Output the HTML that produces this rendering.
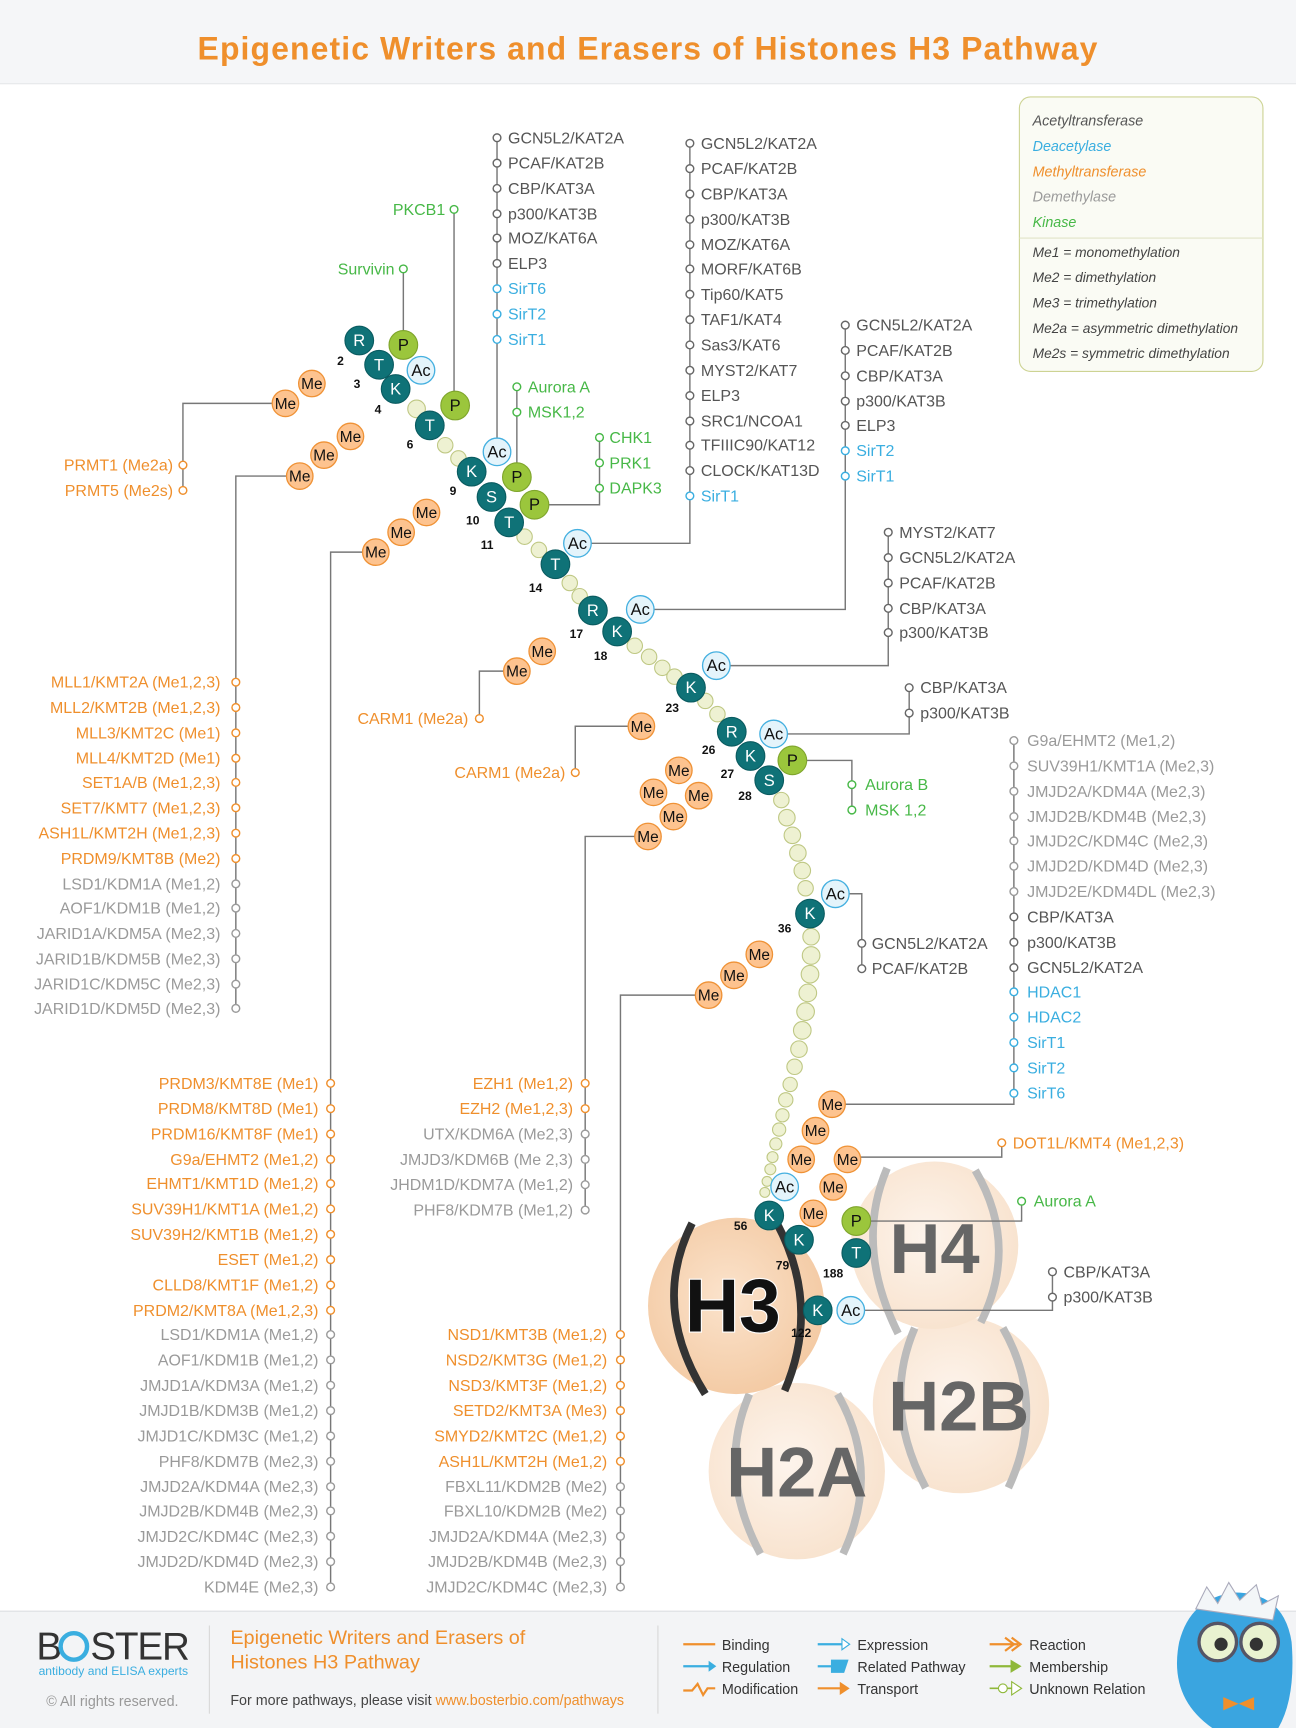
<!DOCTYPE html>
<html><head><meta charset="utf-8"><style>
html,body{margin:0;padding:0;background:#fff}
svg{display:block}
text{font-family:"Liberation Sans",sans-serif}
.g{fill:#555;font-size:14.5px}.b{fill:#3aaee0;font-size:14.5px}.o{fill:#ef8f2c;font-size:14.5px}.l{fill:#9a9a9a;font-size:14.5px}.k{fill:#47b847;font-size:14.5px}
.r{text-anchor:end}
.ln{stroke:#777;stroke-width:1.3;fill:none}
.cg{fill:#fff;stroke:#666;stroke-width:1.3}.cb{fill:#fff;stroke:#3aaee0;stroke-width:1.3}.co{fill:#fff;stroke:#ef8f2c;stroke-width:1.3}.cl{fill:#fff;stroke:#9a9a9a;stroke-width:1.3}.ck{fill:#fff;stroke:#47b847;stroke-width:1.3}
.t{fill:#0f7277;stroke:#0a5b60;stroke-width:1}.tt{fill:#fff;font-size:15px;text-anchor:middle}
.p{fill:#9bc63c;stroke:#7fa52c;stroke-width:1}.pt{fill:#111;font-size:15px;text-anchor:middle}
.a{fill:#e4f4fb;stroke:#45b0e0;stroke-width:1.2}
.m{fill:#fdc38f;stroke:#ef9236;stroke-width:1.2}
.bd{fill:#eef1d2;stroke:#bfc884;stroke-width:1}
.n{font-size:11px;font-weight:bold;fill:#111;text-anchor:middle}
.lg{font-size:13px;font-style:italic}
</style></head><body>
<svg width="1296" height="1728" viewBox="0 0 1176 1568" xmlns="http://www.w3.org/2000/svg">
<defs>
<radialGradient id="peach" cx="0.45" cy="0.45" r="0.6"><stop offset="0" stop-color="#fbe3cc"/><stop offset="1" stop-color="#f3c9a2"/></radialGradient>
<radialGradient id="peach2" cx="0.45" cy="0.45" r="0.6"><stop offset="0" stop-color="#fdf4ec"/><stop offset="1" stop-color="#f8e2cd"/></radialGradient>
</defs>
<rect x="0" y="0" width="1176" height="76" fill="#f5f6f8"/>
<line x1="0" y1="76" x2="1176" y2="76" stroke="#e3e5e8"/>
<text x="588" y="54" text-anchor="middle" style="font-size:29px;font-weight:bold;fill:#ef8f2c;letter-spacing:1px">Epigenetic Writers and Erasers of Histones H3 Pathway</text>

<!-- legend box -->
<rect x="925" y="88" width="221" height="249" rx="10" fill="#fafbf4" stroke="#cdd393"/>
<text x="937" y="114" class="lg" fill="#555">Acetyltransferase</text>
<text x="937" y="137" class="lg" fill="#3aaee0">Deacetylase</text>
<text x="937" y="160" class="lg" fill="#ef8f2c">Methyltransferase</text>
<text x="937" y="183" class="lg" fill="#9a9a9a">Demethylase</text>
<text x="937" y="206" class="lg" fill="#47b847">Kinase</text>
<line x1="925" y1="216" x2="1146" y2="216" stroke="#e1e4c8"/>
<text x="937" y="233" class="lg" fill="#444" style="font-size:12.5px">Me1 = monomethylation</text>
<text x="937" y="256" class="lg" fill="#444" style="font-size:12.5px">Me2 = dimethylation</text>
<text x="937" y="279" class="lg" fill="#444" style="font-size:12.5px">Me3 = trimethylation</text>
<text x="937" y="302" class="lg" fill="#444" style="font-size:12.5px">Me2a = asymmetric dimethylation</text>
<text x="937" y="325" class="lg" fill="#444" style="font-size:12.5px">Me2s = symmetric dimethylation</text>

<!-- nucleosome -->
<g>
<circle cx="723" cy="1335" r="80" fill="url(#peach2)"/>
<path d="M680 1265 Q650 1335 690 1410" stroke="#bbb" stroke-width="7" fill="none"/>
<path d="M760 1265 Q800 1335 765 1410" stroke="#bbb" stroke-width="7" fill="none"/>
<text x="723" y="1358" text-anchor="middle" style="font-size:64px;font-weight:bold;fill:#666">H2A</text>
<circle cx="872" cy="1275" r="80" fill="url(#peach2)"/>
<path d="M830 1205 Q800 1275 840 1350" stroke="#bbb" stroke-width="7" fill="none"/>
<path d="M910 1205 Q950 1275 915 1350" stroke="#bbb" stroke-width="7" fill="none"/>
<text x="870" y="1298" text-anchor="middle" style="font-size:64px;font-weight:bold;fill:#666">H2B</text>
<circle cx="848" cy="1130" r="76" fill="url(#peach2)"/>
<path d="M805 1060 Q775 1130 815 1210" stroke="#bbb" stroke-width="7" fill="none"/>
<path d="M885 1062 Q925 1130 890 1200" stroke="#bbb" stroke-width="7" fill="none"/>
<text x="848" y="1155" text-anchor="middle" style="font-size:64px;font-weight:bold;fill:#666">H4</text>
<circle cx="668" cy="1185" r="80" fill="url(#peach)"/>
<path d="M628 1110 Q590 1185 640 1265" stroke="#333" stroke-width="7" fill="none"/>
<path d="M705 1110 Q745 1185 712 1262" stroke="#333" stroke-width="7" fill="none"/>
<text x="665" y="1208" text-anchor="middle" style="font-size:68px;font-weight:bold;fill:#111;stroke:#fff;stroke-width:2;paint-order:stroke">H3</text>
</g>

<!-- connector lines -->
<g class="ln">
<path d="M259 366 H166 V445"/>
<path d="M272 432 H214 V915"/>
<path d="M341 501 H300 V1440"/>
<path d="M469 609 H435 V652"/>
<path d="M582 659 H522 V701"/>
<path d="M588 759 H531 V1098"/>
<path d="M643 903 H563 V1440"/>
<path d="M451 125 V398"/>
<path d="M412 190 V356"/>
<path d="M366 244 V301"/>
<path d="M469 351 V421"/>
<path d="M485 458 H544 V397"/>
<path d="M536 493 H626 V130"/>
<path d="M593 553 H767 V295"/>
<path d="M662 604 H806 V483"/>
<path d="M714 666 H825 V624"/>
<path d="M731 690 H773 V735"/>
<path d="M770 811 H782 V879"/>
<path d="M767 1002 H920 V672"/>
<path d="M781 1050 H909 V1037"/>
<path d="M789 1108 H927 V1090"/>
<path d="M784 1189 H955 V1154"/>
</g>

<!-- beads -->
<g class="bd">
<circle cx="378" cy="371" r="8"/><circle cx="404" cy="404" r="7"/><circle cx="416" cy="416" r="7"/>
<circle cx="476" cy="487" r="7"/><circle cx="489" cy="499" r="7"/>
<circle cx="517" cy="529" r="7"/><circle cx="526" cy="541" r="7"/>
<circle cx="576" cy="586" r="7"/><circle cx="589" cy="596" r="7"/><circle cx="601" cy="606" r="7"/><circle cx="612" cy="614" r="7"/>
<circle cx="640" cy="636" r="7"/><circle cx="651" cy="648" r="7"/>
<circle cx="709" cy="726" r="7"/><circle cx="714" cy="742" r="7.5"/><circle cx="719" cy="758" r="7.5"/><circle cx="724" cy="774" r="7.5"/><circle cx="728" cy="790" r="7.5"/><circle cx="731" cy="806" r="7"/>
<circle cx="736" cy="850" r="7.5"/><circle cx="736" cy="867" r="8"/><circle cx="735" cy="884" r="8"/><circle cx="733" cy="901" r="8"/><circle cx="731" cy="918" r="8"/><circle cx="728" cy="935" r="8"/><circle cx="725" cy="952" r="7.5"/><circle cx="721" cy="968" r="7"/><circle cx="717" cy="984" r="6.5"/><circle cx="713" cy="998" r="6.5"/><circle cx="710" cy="1012" r="6"/><circle cx="707" cy="1025" r="6"/><circle cx="704" cy="1038" r="5.5"/><circle cx="701" cy="1050" r="5"/><circle cx="699" cy="1061" r="5"/><circle cx="696" cy="1072" r="4.5"/><circle cx="694" cy="1082" r="4.5"/>
</g>

<!-- Me -->
<g class="m">
<circle cx="283" cy="348" r="12"/><circle cx="259" cy="366" r="12"/>
<circle cx="318" cy="396" r="12"/><circle cx="294" cy="413" r="12"/><circle cx="272" cy="432" r="12"/>
<circle cx="387" cy="465" r="12"/><circle cx="364" cy="483" r="12"/><circle cx="341" cy="501" r="12"/>
<circle cx="492" cy="591" r="12"/><circle cx="469" cy="609" r="12"/>
<circle cx="582" cy="659" r="12"/>
<circle cx="616" cy="699" r="12"/><circle cx="593" cy="719" r="12"/><circle cx="634" cy="722" r="12"/><circle cx="611" cy="741" r="12"/><circle cx="588" cy="759" r="12"/>
<circle cx="689" cy="866" r="12"/><circle cx="666" cy="885" r="12"/><circle cx="643" cy="903" r="12"/>
<circle cx="755" cy="1002" r="12"/><circle cx="740" cy="1026" r="12"/><circle cx="727" cy="1052" r="12"/><circle cx="769" cy="1052" r="12"/><circle cx="756" cy="1077" r="12"/><circle cx="738" cy="1101" r="12"/>
</g>
<g class="pt" style="font-size:14px">
<text x="283" y="353">Me</text><text x="259" y="371">Me</text>
<text x="318" y="401">Me</text><text x="294" y="418">Me</text><text x="272" y="437">Me</text>
<text x="387" y="470">Me</text><text x="364" y="488">Me</text><text x="341" y="506">Me</text>
<text x="492" y="596">Me</text><text x="469" y="614">Me</text>
<text x="582" y="664">Me</text>
<text x="616" y="704">Me</text><text x="593" y="724">Me</text><text x="634" y="727">Me</text><text x="611" y="746">Me</text><text x="588" y="764">Me</text>
<text x="689" y="871">Me</text><text x="666" y="890">Me</text><text x="643" y="908">Me</text>
<text x="755" y="1007">Me</text><text x="740" y="1031">Me</text><text x="727" y="1057">Me</text><text x="769" y="1057">Me</text><text x="756" y="1082">Me</text><text x="738" y="1106">Me</text>
</g>

<!-- Ac -->
<g class="a">
<circle cx="382" cy="336" r="12.5"/><circle cx="451" cy="410" r="12.5"/><circle cx="524" cy="493" r="12.5"/><circle cx="581" cy="553" r="12.5"/><circle cx="650" cy="604" r="12.5"/><circle cx="702" cy="666" r="12.5"/><circle cx="758" cy="811" r="12.5"/><circle cx="712" cy="1077" r="12.5"/><circle cx="772" cy="1189" r="12.5"/>
</g>
<g class="pt">
<text x="382" y="341">Ac</text><text x="451" y="415">Ac</text><text x="524" y="498">Ac</text><text x="581" y="558">Ac</text><text x="650" y="609">Ac</text><text x="702" y="671">Ac</text><text x="758" y="816">Ac</text><text x="712" y="1082">Ac</text><text x="772" y="1194">Ac</text>
</g>

<!-- P -->
<g class="p">
<circle cx="366" cy="313" r="13"/><circle cx="413" cy="368" r="13"/><circle cx="469" cy="433" r="13"/><circle cx="485" cy="458" r="13"/><circle cx="719" cy="690" r="13"/><circle cx="777" cy="1108" r="13"/>
</g>
<g class="pt">
<text x="366" y="318">P</text><text x="413" y="373">P</text><text x="469" y="438">P</text><text x="485" y="463">P</text><text x="719" y="695">P</text><text x="777" y="1113">P</text>
</g>

<!-- residues -->
<g class="t">
<circle cx="326" cy="309" r="13"/><circle cx="344" cy="331" r="13"/><circle cx="359" cy="353" r="13"/><circle cx="390" cy="386" r="13"/>
<circle cx="428" cy="428" r="13"/><circle cx="446" cy="451" r="13"/><circle cx="462" cy="474" r="13"/><circle cx="504" cy="512" r="13"/>
<circle cx="538" cy="554" r="13"/><circle cx="560" cy="573" r="13"/><circle cx="627" cy="624" r="13"/>
<circle cx="664" cy="664" r="13"/><circle cx="681" cy="686" r="13"/><circle cx="698" cy="708" r="13"/>
<circle cx="735" cy="829" r="13"/><circle cx="698" cy="1103" r="13"/><circle cx="725" cy="1125" r="13"/><circle cx="777" cy="1137" r="13"/><circle cx="742" cy="1189" r="13"/>
</g>
<g class="tt">
<text x="326" y="314">R</text><text x="344" y="336">T</text><text x="359" y="358">K</text><text x="390" y="391">T</text>
<text x="428" y="433">K</text><text x="446" y="456">S</text><text x="462" y="479">T</text><text x="504" y="517">T</text>
<text x="538" y="559">R</text><text x="560" y="578">K</text><text x="627" y="629">K</text>
<text x="664" y="669">R</text><text x="681" y="691">K</text><text x="698" y="713">S</text>
<text x="735" y="834">K</text><text x="698" y="1108">K</text><text x="725" y="1130">K</text><text x="777" y="1142">T</text><text x="742" y="1194">K</text>
</g>
<g class="n">
<text x="309" y="331">2</text><text x="324" y="352">3</text><text x="343" y="375">4</text><text x="372" y="407">6</text>
<text x="411" y="449">9</text><text x="429" y="476">10</text><text x="442" y="498">11</text><text x="486" y="537">14</text>
<text x="523" y="579">17</text><text x="545" y="599">18</text><text x="610" y="646">23</text><text x="643" y="684">26</text>
<text x="660" y="706">27</text><text x="676" y="726">28</text><text x="712" y="846">36</text><text x="672" y="1116">56</text>
<text x="710" y="1152">79</text><text x="756" y="1159">188</text><text x="727" y="1213">122</text>
</g>

<!-- top lists -->
<g>
<circle cx="451" cy="125" r="3.5" class="cg"/><text x="461" y="130" class="g">GCN5L2/KAT2A</text>
<circle cx="451" cy="148" r="3.5" class="cg"/><text x="461" y="153" class="g">PCAF/KAT2B</text>
<circle cx="451" cy="171" r="3.5" class="cg"/><text x="461" y="176" class="g">CBP/KAT3A</text>
<circle cx="451" cy="194" r="3.5" class="cg"/><text x="461" y="199" class="g">p300/KAT3B</text>
<circle cx="451" cy="216" r="3.5" class="cg"/><text x="461" y="221" class="g">MOZ/KAT6A</text>
<circle cx="451" cy="239" r="3.5" class="cg"/><text x="461" y="244" class="g">ELP3</text>
<circle cx="451" cy="262" r="3.5" class="cb"/><text x="461" y="267" class="b">SirT6</text>
<circle cx="451" cy="285" r="3.5" class="cb"/><text x="461" y="290" class="b">SirT2</text>
<circle cx="451" cy="308" r="3.5" class="cb"/><text x="461" y="313" class="b">SirT1</text>

<circle cx="412" cy="190" r="3.5" class="ck"/><text x="404" y="195" class="k r">PKCB1</text>
<circle cx="366" cy="244" r="3.5" class="ck"/><text x="358" y="249" class="k r">Survivin</text>
<circle cx="469" cy="351" r="3.5" class="ck"/><text x="479" y="356" class="k">Aurora A</text>
<circle cx="469" cy="374" r="3.5" class="ck"/><text x="479" y="379" class="k">MSK1,2</text>
<circle cx="544" cy="397" r="3.5" class="ck"/><text x="553" y="402" class="k">CHK1</text>
<circle cx="544" cy="420" r="3.5" class="ck"/><text x="553" y="425" class="k">PRK1</text>
<circle cx="544" cy="443" r="3.5" class="ck"/><text x="553" y="448" class="k">DAPK3</text>

<circle cx="626" cy="130" r="3.5" class="cg"/><text x="636" y="135" class="g">GCN5L2/KAT2A</text>
<circle cx="626" cy="153" r="3.5" class="cg"/><text x="636" y="158" class="g">PCAF/KAT2B</text>
<circle cx="626" cy="176" r="3.5" class="cg"/><text x="636" y="181" class="g">CBP/KAT3A</text>
<circle cx="626" cy="199" r="3.5" class="cg"/><text x="636" y="204" class="g">p300/KAT3B</text>
<circle cx="626" cy="222" r="3.5" class="cg"/><text x="636" y="227" class="g">MOZ/KAT6A</text>
<circle cx="626" cy="244" r="3.5" class="cg"/><text x="636" y="249" class="g">MORF/KAT6B</text>
<circle cx="626" cy="267" r="3.5" class="cg"/><text x="636" y="272" class="g">Tip60/KAT5</text>
<circle cx="626" cy="290" r="3.5" class="cg"/><text x="636" y="295" class="g">TAF1/KAT4</text>
<circle cx="626" cy="313" r="3.5" class="cg"/><text x="636" y="318" class="g">Sas3/KAT6</text>
<circle cx="626" cy="336" r="3.5" class="cg"/><text x="636" y="341" class="g">MYST2/KAT7</text>
<circle cx="626" cy="359" r="3.5" class="cg"/><text x="636" y="364" class="g">ELP3</text>
<circle cx="626" cy="382" r="3.5" class="cg"/><text x="636" y="387" class="g">SRC1/NCOA1</text>
<circle cx="626" cy="404" r="3.5" class="cg"/><text x="636" y="409" class="g">TFIIIC90/KAT12</text>
<circle cx="626" cy="427" r="3.5" class="cg"/><text x="636" y="432" class="g">CLOCK/KAT13D</text>
<circle cx="626" cy="450" r="3.5" class="cb"/><text x="636" y="455" class="b">SirT1</text>

<circle cx="767" cy="295" r="3.5" class="cg"/><text x="777" y="300" class="g">GCN5L2/KAT2A</text>
<circle cx="767" cy="318" r="3.5" class="cg"/><text x="777" y="323" class="g">PCAF/KAT2B</text>
<circle cx="767" cy="341" r="3.5" class="cg"/><text x="777" y="346" class="g">CBP/KAT3A</text>
<circle cx="767" cy="364" r="3.5" class="cg"/><text x="777" y="369" class="g">p300/KAT3B</text>
<circle cx="767" cy="386" r="3.5" class="cg"/><text x="777" y="391" class="g">ELP3</text>
<circle cx="767" cy="409" r="3.5" class="cb"/><text x="777" y="414" class="b">SirT2</text>
<circle cx="767" cy="432" r="3.5" class="cb"/><text x="777" y="437" class="b">SirT1</text>

<circle cx="806" cy="483" r="3.5" class="cg"/><text x="816" y="488" class="g">MYST2/KAT7</text>
<circle cx="806" cy="506" r="3.5" class="cg"/><text x="816" y="511" class="g">GCN5L2/KAT2A</text>
<circle cx="806" cy="529" r="3.5" class="cg"/><text x="816" y="534" class="g">PCAF/KAT2B</text>
<circle cx="806" cy="552" r="3.5" class="cg"/><text x="816" y="557" class="g">CBP/KAT3A</text>
<circle cx="806" cy="574" r="3.5" class="cg"/><text x="816" y="579" class="g">p300/KAT3B</text>

<circle cx="825" cy="624" r="3.5" class="cg"/><text x="835" y="629" class="g">CBP/KAT3A</text>
<circle cx="825" cy="647" r="3.5" class="cg"/><text x="835" y="652" class="g">p300/KAT3B</text>

<circle cx="773" cy="712" r="3.5" class="ck"/><text x="785" y="717" class="k">Aurora B</text>
<circle cx="773" cy="735" r="3.5" class="ck"/><text x="785" y="740" class="k">MSK 1,2</text>

<circle cx="782" cy="856" r="3.5" class="cg"/><text x="791" y="861" class="g">GCN5L2/KAT2A</text>
<circle cx="782" cy="879" r="3.5" class="cg"/><text x="791" y="884" class="g">PCAF/KAT2B</text>

<circle cx="920" cy="672" r="3.5" class="cl"/><text x="932" y="677" class="l">G9a/EHMT2 (Me1,2)</text>
<circle cx="920" cy="695" r="3.5" class="cl"/><text x="932" y="700" class="l">SUV39H1/KMT1A (Me2,3)</text>
<circle cx="920" cy="718" r="3.5" class="cl"/><text x="932" y="723" class="l">JMJD2A/KDM4A (Me2,3)</text>
<circle cx="920" cy="741" r="3.5" class="cl"/><text x="932" y="746" class="l">JMJD2B/KDM4B (Me2,3)</text>
<circle cx="920" cy="763" r="3.5" class="cl"/><text x="932" y="768" class="l">JMJD2C/KDM4C (Me2,3)</text>
<circle cx="920" cy="786" r="3.5" class="cl"/><text x="932" y="791" class="l">JMJD2D/KDM4D (Me2,3)</text>
<circle cx="920" cy="809" r="3.5" class="cl"/><text x="932" y="814" class="l">JMJD2E/KDM4DL (Me2,3)</text>
<circle cx="920" cy="832" r="3.5" class="cg"/><text x="932" y="837" class="g">CBP/KAT3A</text>
<circle cx="920" cy="855" r="3.5" class="cg"/><text x="932" y="860" class="g">p300/KAT3B</text>
<circle cx="920" cy="878" r="3.5" class="cg"/><text x="932" y="883" class="g">GCN5L2/KAT2A</text>
<circle cx="920" cy="900" r="3.5" class="cb"/><text x="932" y="905" class="b">HDAC1</text>
<circle cx="920" cy="923" r="3.5" class="cb"/><text x="932" y="928" class="b">HDAC2</text>
<circle cx="920" cy="946" r="3.5" class="cb"/><text x="932" y="951" class="b">SirT1</text>
<circle cx="920" cy="969" r="3.5" class="cb"/><text x="932" y="974" class="b">SirT2</text>
<circle cx="920" cy="992" r="3.5" class="cb"/><text x="932" y="997" class="b">SirT6</text>

<circle cx="909" cy="1037" r="3.5" class="co"/><text x="919" y="1042" class="o">DOT1L/KMT4 (Me1,2,3)</text>
<circle cx="927" cy="1090" r="3.5" class="ck"/><text x="938" y="1095" class="k">Aurora A</text>
<circle cx="955" cy="1154" r="3.5" class="cg"/><text x="965" y="1159" class="g">CBP/KAT3A</text>
<circle cx="955" cy="1177" r="3.5" class="cg"/><text x="965" y="1182" class="g">p300/KAT3B</text>
</g>

<!-- left lists -->
<g>
<circle cx="166" cy="422" r="3.5" class="co"/><text x="157" y="427" class="o r">PRMT1 (Me2a)</text>
<circle cx="166" cy="445" r="3.5" class="co"/><text x="157" y="450" class="o r">PRMT5 (Me2s)</text>

<circle cx="214" cy="619" r="3.5" class="co"/><text x="200" y="624" class="o r">MLL1/KMT2A (Me1,2,3)</text>
<circle cx="214" cy="642" r="3.5" class="co"/><text x="200" y="647" class="o r">MLL2/KMT2B (Me1,2,3)</text>
<circle cx="214" cy="665" r="3.5" class="co"/><text x="200" y="670" class="o r">MLL3/KMT2C (Me1)</text>
<circle cx="214" cy="688" r="3.5" class="co"/><text x="200" y="693" class="o r">MLL4/KMT2D (Me1)</text>
<circle cx="214" cy="710" r="3.5" class="co"/><text x="200" y="715" class="o r">SET1A/B (Me1,2,3)</text>
<circle cx="214" cy="733" r="3.5" class="co"/><text x="200" y="738" class="o r">SET7/KMT7 (Me1,2,3)</text>
<circle cx="214" cy="756" r="3.5" class="co"/><text x="200" y="761" class="o r">ASH1L/KMT2H (Me1,2,3)</text>
<circle cx="214" cy="779" r="3.5" class="co"/><text x="200" y="784" class="o r">PRDM9/KMT8B (Me2)</text>
<circle cx="214" cy="802" r="3.5" class="cl"/><text x="200" y="807" class="l r">LSD1/KDM1A (Me1,2)</text>
<circle cx="214" cy="824" r="3.5" class="cl"/><text x="200" y="829" class="l r">AOF1/KDM1B (Me1,2)</text>
<circle cx="214" cy="847" r="3.5" class="cl"/><text x="200" y="852" class="l r">JARID1A/KDM5A (Me2,3)</text>
<circle cx="214" cy="870" r="3.5" class="cl"/><text x="200" y="875" class="l r">JARID1B/KDM5B (Me2,3)</text>
<circle cx="214" cy="893" r="3.5" class="cl"/><text x="200" y="898" class="l r">JARID1C/KDM5C (Me2,3)</text>
<circle cx="214" cy="915" r="3.5" class="cl"/><text x="200" y="920" class="l r">JARID1D/KDM5D (Me2,3)</text>

<circle cx="300" cy="983" r="3.5" class="co"/><text x="289" y="988" class="o r">PRDM3/KMT8E (Me1)</text>
<circle cx="300" cy="1006" r="3.5" class="co"/><text x="289" y="1011" class="o r">PRDM8/KMT8D (Me1)</text>
<circle cx="300" cy="1029" r="3.5" class="co"/><text x="289" y="1034" class="o r">PRDM16/KMT8F (Me1)</text>
<circle cx="300" cy="1052" r="3.5" class="co"/><text x="289" y="1057" class="o r">G9a/EHMT2 (Me1,2)</text>
<circle cx="300" cy="1074" r="3.5" class="co"/><text x="289" y="1079" class="o r">EHMT1/KMT1D (Me1,2)</text>
<circle cx="300" cy="1097" r="3.5" class="co"/><text x="289" y="1102" class="o r">SUV39H1/KMT1A (Me1,2)</text>
<circle cx="300" cy="1120" r="3.5" class="co"/><text x="289" y="1125" class="o r">SUV39H2/KMT1B (Me1,2)</text>
<circle cx="300" cy="1143" r="3.5" class="co"/><text x="289" y="1148" class="o r">ESET (Me1,2)</text>
<circle cx="300" cy="1166" r="3.5" class="co"/><text x="289" y="1171" class="o r">CLLD8/KMT1F (Me1,2)</text>
<circle cx="300" cy="1189" r="3.5" class="co"/><text x="289" y="1194" class="o r">PRDM2/KMT8A (Me1,2,3)</text>
<circle cx="300" cy="1211" r="3.5" class="cl"/><text x="289" y="1216" class="l r">LSD1/KDM1A (Me1,2)</text>
<circle cx="300" cy="1234" r="3.5" class="cl"/><text x="289" y="1239" class="l r">AOF1/KDM1B (Me1,2)</text>
<circle cx="300" cy="1257" r="3.5" class="cl"/><text x="289" y="1262" class="l r">JMJD1A/KDM3A (Me1,2)</text>
<circle cx="300" cy="1280" r="3.5" class="cl"/><text x="289" y="1285" class="l r">JMJD1B/KDM3B (Me1,2)</text>
<circle cx="300" cy="1303" r="3.5" class="cl"/><text x="289" y="1308" class="l r">JMJD1C/KDM3C (Me1,2)</text>
<circle cx="300" cy="1326" r="3.5" class="cl"/><text x="289" y="1331" class="l r">PHF8/KDM7B (Me2,3)</text>
<circle cx="300" cy="1349" r="3.5" class="cl"/><text x="289" y="1354" class="l r">JMJD2A/KDM4A (Me2,3)</text>
<circle cx="300" cy="1371" r="3.5" class="cl"/><text x="289" y="1376" class="l r">JMJD2B/KDM4B (Me2,3)</text>
<circle cx="300" cy="1394" r="3.5" class="cl"/><text x="289" y="1399" class="l r">JMJD2C/KDM4C (Me2,3)</text>
<circle cx="300" cy="1417" r="3.5" class="cl"/><text x="289" y="1422" class="l r">JMJD2D/KDM4D (Me2,3)</text>
<circle cx="300" cy="1440" r="3.5" class="cl"/><text x="289" y="1445" class="l r">KDM4E (Me2,3)</text>

<circle cx="435" cy="652" r="3.5" class="co"/><text x="425" y="657" class="o r">CARM1 (Me2a)</text>
<circle cx="522" cy="701" r="3.5" class="co"/><text x="513" y="706" class="o r">CARM1 (Me2a)</text>

<circle cx="531" cy="983" r="3.5" class="co"/><text x="520" y="988" class="o r">EZH1 (Me1,2)</text>
<circle cx="531" cy="1006" r="3.5" class="co"/><text x="520" y="1011" class="o r">EZH2 (Me1,2,3)</text>
<circle cx="531" cy="1029" r="3.5" class="cl"/><text x="520" y="1034" class="l r">UTX/KDM6A (Me2,3)</text>
<circle cx="531" cy="1052" r="3.5" class="cl"/><text x="520" y="1057" class="l r">JMJD3/KDM6B (Me 2,3)</text>
<circle cx="531" cy="1075" r="3.5" class="cl"/><text x="520" y="1080" class="l r">JHDM1D/KDM7A (Me1,2)</text>
<circle cx="531" cy="1098" r="3.5" class="cl"/><text x="520" y="1103" class="l r">PHF8/KDM7B (Me1,2)</text>

<circle cx="563" cy="1211" r="3.5" class="co"/><text x="551" y="1216" class="o r">NSD1/KMT3B (Me1,2)</text>
<circle cx="563" cy="1234" r="3.5" class="co"/><text x="551" y="1239" class="o r">NSD2/KMT3G (Me1,2)</text>
<circle cx="563" cy="1257" r="3.5" class="co"/><text x="551" y="1262" class="o r">NSD3/KMT3F (Me1,2)</text>
<circle cx="563" cy="1280" r="3.5" class="co"/><text x="551" y="1285" class="o r">SETD2/KMT3A (Me3)</text>
<circle cx="563" cy="1303" r="3.5" class="co"/><text x="551" y="1308" class="o r">SMYD2/KMT2C (Me1,2)</text>
<circle cx="563" cy="1326" r="3.5" class="co"/><text x="551" y="1331" class="o r">ASH1L/KMT2H (Me1,2)</text>
<circle cx="563" cy="1349" r="3.5" class="cl"/><text x="551" y="1354" class="l r">FBXL11/KDM2B (Me2)</text>
<circle cx="563" cy="1371" r="3.5" class="cl"/><text x="551" y="1376" class="l r">FBXL10/KDM2B (Me2)</text>
<circle cx="563" cy="1394" r="3.5" class="cl"/><text x="551" y="1399" class="l r">JMJD2A/KDM4A (Me2,3)</text>
<circle cx="563" cy="1417" r="3.5" class="cl"/><text x="551" y="1422" class="l r">JMJD2B/KDM4B (Me2,3)</text>
<circle cx="563" cy="1440" r="3.5" class="cl"/><text x="551" y="1445" class="l r">JMJD2C/KDM4C (Me2,3)</text>
</g>

<!-- footer -->
<rect x="0" y="1462" width="1176" height="106" fill="#f3f4f6"/>
<line x1="0" y1="1462" x2="1176" y2="1462" stroke="#dcdee2"/>
<line x1="190" y1="1475" x2="190" y2="1555" stroke="#d8d8d8"/>
<line x1="597" y1="1475" x2="597" y2="1555" stroke="#d8d8d8"/>
<text x="33" y="1506" style="font-size:35px;fill:#333;letter-spacing:-1px">B</text>
<circle cx="67" cy="1494" r="12" fill="none" stroke="#3aaee0" stroke-width="4"/>
<text x="82" y="1506" style="font-size:35px;fill:#333;letter-spacing:-1px">STER</text>
<text x="35" y="1520" style="font-size:11px;fill:#3aaee0">antibody and ELISA experts</text>
<text x="42" y="1548" style="font-size:13px;fill:#999">© All rights reserved.</text>
<text x="209" y="1492" style="font-size:18px;fill:#ef8f2c">Epigenetic Writers and Erasers of</text>
<text x="209" y="1514" style="font-size:18px;fill:#ef8f2c">Histones H3 Pathway</text>
<text x="209" y="1547" style="font-size:13px;fill:#444">For more pathways, please visit <tspan fill="#ef8f2c">www.bosterbio.com/pathways</tspan></text>
<g style="font-size:13px;fill:#333">
<line x1="620" y1="1492" x2="649" y2="1492" stroke="#ef8f2c" stroke-width="2"/><text x="655" y="1497">Binding</text>
<line x1="620" y1="1512" x2="645" y2="1512" stroke="#3aaee0" stroke-width="2"/><path d="M643 1507 L650 1512 L643 1517Z" fill="#3aaee0"/><text x="655" y="1517">Regulation</text>
<path d="M620 1534 H628 L633 1528 L638 1538 L642 1532 H649" stroke="#ef8f2c" stroke-width="2" fill="none"/><text x="655" y="1537">Modification</text>
<line x1="742" y1="1492" x2="765" y2="1492" stroke="#3aaee0" stroke-width="2"/><path d="M764 1487 L771 1492 L764 1497Z" fill="#fff" stroke="#3aaee0"/><text x="778" y="1497">Expression</text>
<line x1="742" y1="1512" x2="755" y2="1512" stroke="#3aaee0" stroke-width="2"/><path d="M754 1506 H770 L766 1518 H754Z" fill="#3aaee0"/><text x="778" y="1517">Related Pathway</text>
<line x1="742" y1="1532" x2="763" y2="1532" stroke="#ef8f2c" stroke-width="2"/><path d="M762 1526 L771 1532 L762 1538Z" fill="#ef8f2c"/><text x="778" y="1537">Transport</text>
<line x1="898" y1="1492" x2="924" y2="1492" stroke="#ef8f2c" stroke-width="2"/><path d="M918 1486 L926 1492 L918 1498 M912 1486 L920 1492 L912 1498" stroke="#ef8f2c" stroke-width="2" fill="none"/><text x="934" y="1497">Reaction</text>
<line x1="898" y1="1512" x2="918" y2="1512" stroke="#8fb83a" stroke-width="2"/><path d="M917 1506 L927 1512 L917 1518Z" fill="#8fb83a"/><text x="934" y="1517">Membership</text>
<line x1="898" y1="1532" x2="924" y2="1532" stroke="#8fb83a" stroke-width="1.5"/><circle cx="910" cy="1532" r="4" fill="#fff" stroke="#8fb83a"/><path d="M918 1526 L927 1532 L918 1538Z" fill="#fff" stroke="#8fb83a"/><text x="934" y="1537">Unknown Relation</text>
</g>
<!-- mascot -->
<g>
<path d="M1100 1568 Q1060 1540 1070 1490 Q1080 1450 1120 1445 Q1165 1445 1172 1490 Q1176 1540 1160 1568Z" fill="#3aa5e0"/>
<path d="M1085 1460 L1095 1440 L1105 1455 L1115 1436 L1125 1452 L1140 1438 L1145 1456 L1160 1448 L1155 1470Z" fill="#f3f6f8" stroke="#aab"/>
<circle cx="1105" cy="1490" r="17" fill="#e9f2d0" stroke="#556" stroke-width="3"/>
<circle cx="1143" cy="1490" r="17" fill="#e9f2d0" stroke="#556" stroke-width="3"/>
<circle cx="1108" cy="1492" r="6" fill="#333"/><circle cx="1140" cy="1492" r="6" fill="#333"/>
<path d="M1110 1540 L1124 1546 L1138 1540 L1138 1552 L1124 1546 L1110 1552Z" fill="#ef8f2c"/>
</g>
</svg>
</body></html>
